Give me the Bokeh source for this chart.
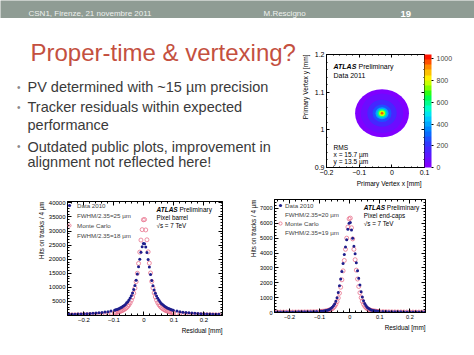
from bokeh.plotting import figure
from bokeh.layouts import column, row
from bokeh.models import (FixedTicker, LinearAxis, Label, ColorBar, LinearColorMapper, Title,
                          ColumnDataSource, Legend, LegendItem, CustomJSTickFormatter)
from bokeh.core.properties import value
from bokeh.embed import file_html
from bokeh.resources import INLINE

FONT = "Liberation Sans"

# ---------------- texts ----------------
HEADER_LEFT = "CSN1, Firenze, 21 novembre 2011"
HEADER_MID = "M.Rescigno"
HEADER_PAGE = "19"
SLIDE_TITLE = "Proper-time & vertexing?"
BULLETS = [
    ["PV determined with ~15 µm precision"],
    ["Tracker residuals within expected", "performance"],
    ["Outdated public plots, improvement in", "alignment not reflected here!"],
]

# ---------------- residual histograms (bin centres in mm) ----------------
RESIDUAL_MM = [
    -0.25, -0.24, -0.23, -0.22, -0.21, -0.20, -0.19, -0.18, -0.17, -0.16, -0.15, -0.14, -0.13, -0.12, -0.11,
    -0.098, -0.094, -0.090, -0.086, -0.082, -0.078, -0.074, -0.070, -0.066, -0.062, -0.058, -0.054, -0.050,
    -0.046, -0.042, -0.038, -0.034, -0.030, -0.026, -0.022, -0.018, -0.014, -0.010, -0.006, -0.002,
    0.002, 0.006, 0.010, 0.014, 0.018, 0.022, 0.026, 0.030, 0.034, 0.038, 0.042, 0.046, 0.050,
    0.054, 0.058, 0.062, 0.066, 0.070, 0.074, 0.078, 0.082, 0.086, 0.090, 0.094, 0.098,
    0.11, 0.12, 0.13, 0.14, 0.15, 0.16, 0.17, 0.18, 0.19, 0.20, 0.21, 0.22, 0.23, 0.24, 0.25,
]
BARREL_DATA = [
    420, 450, 480, 520, 560, 610, 660, 720, 790, 870, 960, 1070, 1200, 1370, 1580,
    1880, 2000, 2150, 2320, 2500, 2720, 2970, 3250, 3580, 3950, 4400, 4900, 5500, 6200, 7000, 8000, 9200,
    10700, 12500, 14700, 17300, 20000, 22500, 24400, 25600,
    25500, 24300, 22400, 19900, 17200, 14600, 12400, 10600, 9100, 7900, 6900, 6100, 5400, 4800, 4300, 3900,
    3550, 3220, 2940, 2700, 2480, 2300, 2130, 1980, 1850,
    1560, 1350, 1190, 1060, 950, 860, 780, 710, 650, 600, 555, 515, 480, 450, 420,
]
BARREL_MC = [
    200, 212, 225, 240, 255, 275, 300, 325, 360, 400, 450, 510, 590, 680, 800,
    960, 1040, 1140, 1250, 1380, 1530, 1700, 1900, 2150, 2450, 2800, 3250, 3800, 4500, 5400, 6500, 7900,
    9700, 12000, 15000, 18500, 22500, 26800, 30500, 34000,
    34100, 30400, 26900, 22600, 18600, 15100, 12100, 9800, 8000, 6600, 5450, 4550, 3850, 3280, 2830, 2470,
    2170, 1920, 1720, 1550, 1400, 1260, 1150, 1050, 970,
    810, 690, 595, 515, 455, 405, 362, 328, 300, 277, 257, 241, 226, 213, 201,
]
ENDCAP_DATA = [
    30, 31, 33, 34, 36, 38, 40, 42, 44, 47, 50, 53, 57, 62, 69,
    78, 84, 92, 102, 115, 132, 155, 185, 225, 280, 350, 450, 580, 760, 1000, 1350, 1800,
    2250, 2750, 3300, 3900, 4400, 4900, 5600, 6000,
    6050, 5550, 5000, 4450, 3950, 3350, 2800, 2300, 1850, 1400, 1050, 790, 600, 465, 360, 288,
    232, 190, 158, 134, 117, 104, 94, 85, 79,
    70, 63, 58, 54, 50, 47, 45, 42, 40, 38, 36, 35, 33, 32, 30,
]
ENDCAP_MC = [
    25, 26, 27, 28, 29, 30, 31, 33, 35, 37, 39, 42, 46, 50, 56,
    66, 71, 78, 86, 96, 108, 124, 145, 172, 210, 260, 330, 420, 550, 730, 980, 1300,
    1700, 2200, 2800, 3500, 4250, 5000, 5750, 6300,
    6350, 5700, 4950, 4250, 3550, 2850, 2250, 1750, 1330, 1000, 745, 560, 428, 335, 265, 213,
    175, 147, 126, 110, 97, 87, 79, 72, 67,
    57, 51, 46, 42, 39, 37, 35, 33, 31, 30, 29, 28, 27, 26, 25,
]
for arr in (BARREL_DATA, BARREL_MC, ENDCAP_DATA, ENDCAP_MC):
    assert len(arr) == len(RESIDUAL_MM)

BARREL_FWHM_DATA = "FWHM/2.35=25 µm"
BARREL_FWHM_MC = "FWHM/2.35=18 µm"
ENDCAP_FWHM_DATA = "FWHM/2.35=20 µm"
ENDCAP_FWHM_MC = "FWHM/2.35=19 µm"

BARREL_Y_TICKS = [5000, 10000, 15000, 20000, 25000, 30000, 35000, 40000]
ENDCAP_Y_TICKS = [0, 1000, 2000, 3000, 4000, 5000, 6000, 7000]
RESID_X_TICKS = [-0.2, -0.1, 0.0, 0.1, 0.2]

# ---------------- primary-vertex map (levels of the 2D histogram) ----------------
PV_CENTER_X_MM = -0.030
PV_CENTER_Y_MM = 1.044
PV_LEVEL_COUNTS = [15, 70, 150, 260, 420, 600, 780, 960]
PV_LEVEL_WIDTH_MM = [0.165, 0.130, 0.090, 0.058, 0.040, 0.028, 0.018, 0.008]
PV_LEVEL_HEIGHT_MM = [0.128, 0.105, 0.072, 0.047, 0.032, 0.023, 0.015, 0.007]
PV_X_TICKS = [-0.2, -0.1, 0.0, 0.1]
PV_Y_TICKS = [0.9, 1.0, 1.1, 1.2]
PV_Z_TICKS = [0, 200, 400, 600, 800, 1000]
PV_RMS_X = "x = 15.7 µm"
PV_RMS_Y = "y = 13.5 µm"

PALETTE = ["#8000ff", "#6c0cff", "#5a18ff", "#4626ff", "#3038ff", "#1e50ff", "#0a6cff",
           "#0088ff", "#00a8ff", "#00c8ff", "#00e6f0", "#00ffc8", "#00ff8c", "#00ff50",
           "#2cff14", "#80ff00", "#c8ff00", "#ffee00", "#ffc000", "#ff8c00", "#ff5000", "#ff1400"]

DATA_COLOR = "#1e1e8c"
MC_COLOR = "#e8708c"


class Geo:
    """figure placement on the slide: origin, size, borders, ranges"""
    def __init__(self, ox, oy, w, h, L, R, T, B, xr, yr):
        self.ox, self.oy, self.w, self.h = ox, oy, w, h
        self.L, self.R, self.T, self.B = L, R, T, B
        self.xr, self.yr = xr, yr

    def d(self, sx, sy):
        fw = self.w - self.L - self.R
        fh = self.h - self.T - self.B
        x = self.xr[0] + (sx - self.ox - self.L) / fw * (self.xr[1] - self.xr[0])
        y = self.yr[1] - (sy - self.oy - self.T) / fh * (self.yr[1] - self.yr[0])
        return x, y


def no_align(p):
    if "frame_align" in p.properties():
        p.frame_align = False


def make_fig(g):
    p = figure(width=g.w, height=g.h, x_range=g.xr, y_range=g.yr, toolbar_location=None,
               output_backend="svg", min_border_left=g.L, min_border_right=g.R,
               min_border_top=g.T, min_border_bottom=g.B)
    no_align(p)
    p.background_fill_color = "white"
    p.border_fill_color = "white"
    p.grid.visible = False
    p.outline_line_color = "black"
    p.outline_line_width = 1
    return p


def label(p, g, sx, sy, text, size, color="black", align="left", baseline="alphabetic",
          style="normal", angle=0.0):
    x, y = g.d(sx, sy)
    p.add_layout(Label(x=x, y=y, text=text, text_font=FONT, text_font_size=f"{size}px",
                       text_color=color, text_align=align, text_baseline=baseline,
                       text_font_style=style, angle=angle))


def side_title(p, text, side, size, offset=0, standoff=1):
    p.add_layout(Title(text=text, align="right", offset=offset, standoff=standoff,
                       text_font=FONT, text_font_size=f"{size}px", text_font_style="normal",
                       text_color="black"), side)


X_FMT = """
var s = tick.toFixed(1).replace(/\\.0$/, "");
if (s == "-0") { s = "0"; }
return s.replace("-", "\\u2212");
"""
EMPTY_FMT = "return '';"


def root_axes(p, xt, xminor, yt, yminor, xfmt, yfmt, fs, tick_len=4):
    bx = p.below[0]
    ly = p.left[0]
    for ax, t, m, fmt in ((bx, xt, xminor, xfmt), (ly, yt, yminor, yfmt)):
        ax.ticker = FixedTicker(ticks=t, minor_ticks=m)
        if fmt is not None:
            ax.formatter = fmt
        ax.major_tick_in = tick_len
        ax.major_tick_out = 0
        ax.minor_tick_in = tick_len // 2
        ax.minor_tick_out = 0
        ax.axis_line_color = "black"
        ax.major_tick_line_color = "black"
        ax.minor_tick_line_color = "black"
        ax.major_label_text_font = FONT
        ax.major_label_text_font_size = fs
        ax.major_label_text_color = "black"
        ax.major_label_standoff = 2
    for side, t, m in (("above", xt, xminor), ("right", yt, yminor)):
        ax = LinearAxis(ticker=FixedTicker(ticks=t, minor_ticks=m),
                        formatter=CustomJSTickFormatter(code=EMPTY_FMT))
        ax.major_tick_in = tick_len
        ax.major_tick_out = 0
        ax.minor_tick_in = tick_len // 2
        ax.minor_tick_out = 0
        ax.major_label_standoff = 0
        ax.major_label_text_font_size = "1px"
        p.add_layout(ax, side)


def minor_between(ticks, n):
    out = []
    for a, b in zip(ticks[:-1], ticks[1:]):
        for k in range(1, n):
            out.append(a + (b - a) * k / n)
    return out


def plain_fig(w, h, xr, yr, bg):
    p = figure(width=w, height=h, x_range=xr, y_range=yr, toolbar_location=None,
               output_backend="svg", min_border=0, x_axis_type=None, y_axis_type=None)
    no_align(p)
    p.background_fill_color = bg
    p.border_fill_color = bg
    p.outline_line_color = None
    p.grid.visible = False
    return p


# ---------------- header bar ----------------
pA = plain_fig(474, 18, (0, 474), (18, 0), "#8f9c94")
pA.text(x=[28], y=[12.5], text=[HEADER_LEFT], text_font=value(FONT), text_font_size="8px",
        text_color="#eef1ee", text_baseline="alphabetic")
pA.text(x=[263], y=[12.5], text=[HEADER_MID], text_font=value(FONT), text_font_size="8px",
        text_color="#eef1ee", text_baseline="alphabetic")
pA.text(x=[400], y=[13], text=[HEADER_PAGE], text_font=value(FONT), text_font_size="9.5px",
        text_font_style="bold", text_color="#ffffff", text_baseline="alphabetic")

# ---------------- slide title and bullets ----------------
T_W = 297
pT = plain_fig(T_W, 170, (0, T_W), (188, 18), "white")
pT.text(x=[30], y=[52], text=[SLIDE_TITLE], text_font=value(FONT), text_font_size="24px",
        text_color="#c4503f", text_baseline="alphabetic")
bullet_baselines = [[86.7], [106.7, 124.0], [146.0, 161.7]]
for lines, ys in zip(BULLETS, bullet_baselines):
    pT.text(x=[16.5], y=[ys[0]], text=["•"], text_font=value(FONT), text_font_size="10px",
            text_color="#8a8a8a", text_baseline="alphabetic")
    pT.text(x=[27] * len(lines), y=ys, text=lines, text_font=value(FONT),
            text_font_size="14.5px", text_color="#3a3a3a", text_baseline="alphabetic")

# ---------------- vertex map ----------------
gB = Geo(T_W, 18, 474 - T_W, 170, 326 - T_W, 50, 36, 21, (-0.2, 0.1), (0.9, 1.2))
pB = make_fig(gB)
mapper = LinearColorMapper(palette=PALETTE, low=0, high=1040)
pv_src = ColumnDataSource(dict(
    x=[PV_CENTER_X_MM] * len(PV_LEVEL_COUNTS),
    y=[PV_CENTER_Y_MM] * len(PV_LEVEL_COUNTS),
    w=PV_LEVEL_WIDTH_MM, h=PV_LEVEL_HEIGHT_MM, c=PV_LEVEL_COUNTS))
pB.ellipse(x="x", y="y", width="w", height="h", source=pv_src,
           fill_color={"field": "c", "transform": mapper}, line_color=None)

PV_Y_FMT = CustomJSTickFormatter(code="return tick.toFixed(1).replace(/\\.0$/, '');")
root_axes(pB, PV_X_TICKS, minor_between(PV_X_TICKS + [0.2], 5), PV_Y_TICKS,
          minor_between(PV_Y_TICKS, 5), CustomJSTickFormatter(code=X_FMT), PV_Y_FMT, "7px", 3)

cb = ColorBar(color_mapper=mapper, ticker=FixedTicker(ticks=PV_Z_TICKS), width=7, height=113,
              padding=0, margin=3, label_standoff=3, major_label_text_font=FONT,
              major_label_text_font_size="7px", major_tick_line_color="black",
              major_tick_in=0, major_tick_out=2, bar_line_color=None, border_line_color=None,
              background_fill_color=None)
pB.add_layout(cb, "right")
side_title(pB, "Primary Vertex y [mm]", "left", 6.6, standoff=5)
side_title(pB, "Primary Vertex x [mm]", "below", 6.6, offset=3)

label(pB, gB, 333, 66, "ATLAS", 7, style="bold italic")
label(pB, gB, 358, 66, "Preliminary", 7)
label(pB, gB, 333, 74.5, "Data 2011", 7)
label(pB, gB, 333, 146.5, "RMS", 6.6)
label(pB, gB, 333, 153.5, PV_RMS_X, 6.6)
label(pB, gB, 333, 160.5, PV_RMS_Y, 6.6)


# ---------------- residual panels ----------------
def residual_panel(g, data, mc, yticks, yminor, fs, fwhm_d, fwhm_m, leg_loc, leg_row, leg_standoff,
                   atlas_xy, layer):
    p = make_fig(g)
    r_mc = p.scatter(RESIDUAL_MM, mc, marker="circle", size=4, fill_color=None,
                     line_color=MC_COLOR, line_width=0.8)
    r_d = p.scatter(RESIDUAL_MM, data, marker="circle", size=3, fill_color=DATA_COLOR,
                    line_color=None)
    blank1 = p.line([], [], line_alpha=0)
    blank2 = p.line([], [], line_alpha=0)
    root_axes(p, RESID_X_TICKS, minor_between([-0.3] + RESID_X_TICKS + [0.3], 5), yticks, yminor,
              CustomJSTickFormatter(code=X_FMT), None, fs, 4)
    leg = Legend(items=[LegendItem(label="Data 2010", renderers=[r_d]),
                        LegendItem(label=fwhm_d, renderers=[blank1]),
                        LegendItem(label="Monte Carlo", renderers=[r_mc]),
                        LegendItem(label=fwhm_m, renderers=[blank2])],
                 location=leg_loc, margin=0, padding=0, spacing=leg_row - 8,
                 glyph_width=8, glyph_height=8, label_height=8, label_standoff=leg_standoff,
                 label_text_font=FONT, label_text_font_size="6.2px",
                 background_fill_alpha=0, border_line_color=None)
    p.add_layout(leg)
    ax, ay = atlas_xy
    label(p, g, ax, ay, "ATLAS", 6.5, style="bold italic")
    label(p, g, ax + 23, ay, "Preliminary", 6.5)
    label(p, g, ax, ay + 8, layer, 6.3)
    label(p, g, ax, ay + 15.7, "√s = 7 TeV", 6.3)
    side_title(p, "Hits on tracks / 4 µm", "left", 6.3)
    side_title(p, "Residual [mm]", "below", 6.4, standoff=0)
    return p


gC = Geo(0, 188, 237, 167, 67, 15, 13, 40, (-0.255, 0.262), (0, 40500))
pC = residual_panel(gC, BARREL_DATA, BARREL_MC, BARREL_Y_TICKS,
                    minor_between([0] + BARREL_Y_TICKS, 5), "6px",
                    BARREL_FWHM_DATA, BARREL_FWHM_MC, (-2, 76), 10, 4,
                    (156, 209.3), "Pixel barrel")

gD = Geo(237, 188, 237, 167, 37, 49, 11, 43, (-0.25, 0.252), (0, 7600))
pD = residual_panel(gD, ENDCAP_DATA, ENDCAP_MC, ENDCAP_Y_TICKS,
                    minor_between(ENDCAP_Y_TICKS + [8000], 5), "5.6px",
                    ENDCAP_FWHM_DATA, ENDCAP_FWHM_MC, (2, 76), 9, 1,
                    (363.3, 207.3), "Pixel end-caps")

layout = column(pA, row(pT, pB), row(pC, pD))
open("out.html", "w").write(file_html(layout, INLINE))
